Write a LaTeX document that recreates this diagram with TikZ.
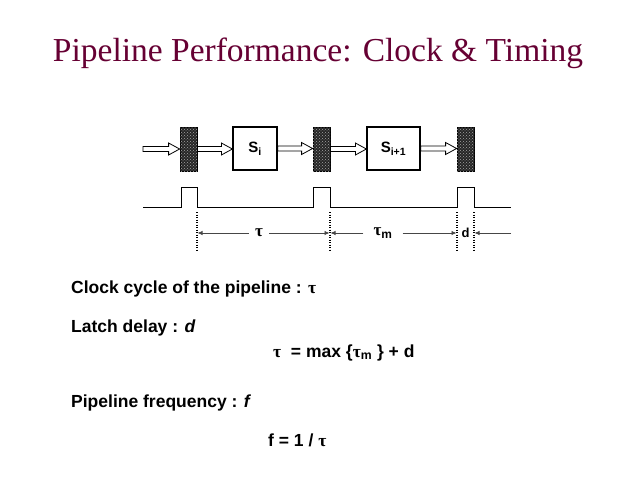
\documentclass[tikz,border=0pt]{standalone}
\usepackage{fontspec}
\setmainfont{Liberation Serif}
\newfontfamily\arialfont{Liberation Sans}
\usetikzlibrary{arrows.meta,patterns,calc}

\definecolor{titlered}{RGB}{102,0,51}
\definecolor{dimgrey}{RGB}{70,70,70}
\newcommand\tauch{{\rmfamily\bfseries τ}}

\tikzset{
  latch/.style={draw,line width=0.8pt,minimum width=17pt,minimum height=44pt,inner sep=0pt,
    fill=black!85,postaction={pattern=crosshatch dots,pattern color=gray!70}},
  stage/.style={draw,line width=1.2pt,minimum height=43pt,inner sep=0pt,
    font=\arialfont\bfseries\fontsize{15}{17}\selectfont},
  hollow/.style={line width=0.8pt,to path={let \p1=(\tikztostart), \p2=(\tikztotarget) in
    (\x1,\y1+2.5pt) -- (\x2-11pt,\y1+2.5pt) -- (\x2-11pt,\y1+6pt) -- (\x2,\y1)
    -- (\x2-11pt,\y1-6pt) -- (\x2-11pt,\y1-2.5pt) -- (\x1,\y1-2.5pt) -- cycle}},
  clock/.style={line width=1pt},
  tick/.style={line width=1.2pt,dash pattern=on 1.2pt off 1.3pt},
  dim/.style={draw=dimgrey,line width=0.8pt,-{Latex[length=5pt,width=4.5pt]},shorten >=0.5pt},
  txt/.style={anchor=base west,inner sep=0pt,font=\arialfont\bfseries\fontsize{17.5}{20}\selectfont}
}

\begin{document}
\begin{tikzpicture}[x=1pt,y=-1pt]
    \useasboundingbox (0,0) rectangle (638,479);
    \node[font=\fontsize{33.5}{40}\selectfont,text=titlered,anchor=base,inner sep=0pt] (title) at (318,61)
        {Pipeline Performance: Clock \& Timing};

    % latches and stages
    \coordinate (in) at (143,149);
    \node[latch] (l1) at (188.5,149) {};
    \node[stage,minimum width=44pt] (si) at (255,148.5) {S\textsubscript{i}};
    \node[latch] (l2) at (321.5,149) {};
    \node[stage,minimum width=53pt] (sj) at (393.5,148.5) {S\textsubscript{i+1}};
    \node[latch] (l3) at (465.5,149) {};
    \draw[hollow] (in) to (l1.west);
    \draw[hollow] (l1.east) to (si.west);
    \draw[hollow] (si.east) to (l2.west);
    \draw[hollow] (l2.east) to (sj.west);
    \draw[hollow] (sj.east) to (l3.west);

    % clock
    \draw[clock] (143,207) -- (181,207) -- (181,187) -- (197,187) -- (197,207)
        -- (313,207) -- (313,187) -- (330,187) -- (330,207)
        -- (457,207) -- (457,187) -- (474,187) -- (474,207) -- (511,207);
    \foreach \x/\n in {197/ta,330/tb,457/tc,474/td} {
        \draw[tick] (\x,212) -- (\x,251);
        \coordinate (\n) at (\x,233);
    }
    \coordinate (dend) at (511,233);

    % timing
    \node[inner xsep=6pt,font=\fontsize{17}{18}\selectfont] (tau) at (259,233) {\tauch};
    \node[inner xsep=10pt,font=\fontsize{17}{18}\selectfont] (taum) at (383,233)
        {\tauch{\arialfont\bfseries\textsubscript{m}}};
    \node[inner sep=0pt,font=\arialfont\bfseries\fontsize{13}{14}\selectfont] (dl) at (465.5,233) {d};
    \draw[dim] (tau) -- (ta);
    \draw[dim] (tau) -- (tb);
    \draw[dim] (taum) -- (tb);
    \draw[dim] (taum) -- (tc);
    \draw[dim] (dend) -- (td);

    % text
    \node[txt] (cyc) at (71,293) {Clock cycle of the pipeline : \tauch};
    \node[txt] (lat) at (71,332) {Latch delay : \textit{d}};
    \node[txt] (eq1) at (273,357) {\tauch\ \ = max \{\tauch\textsubscript{m} \} + d};
    \node[txt] (frq) at (71,407) {Pipeline frequency : \textit{f}};
    \node[txt] (eq2) at (268,446) {f = 1 / \tauch};
\end{tikzpicture}
\end{document}
